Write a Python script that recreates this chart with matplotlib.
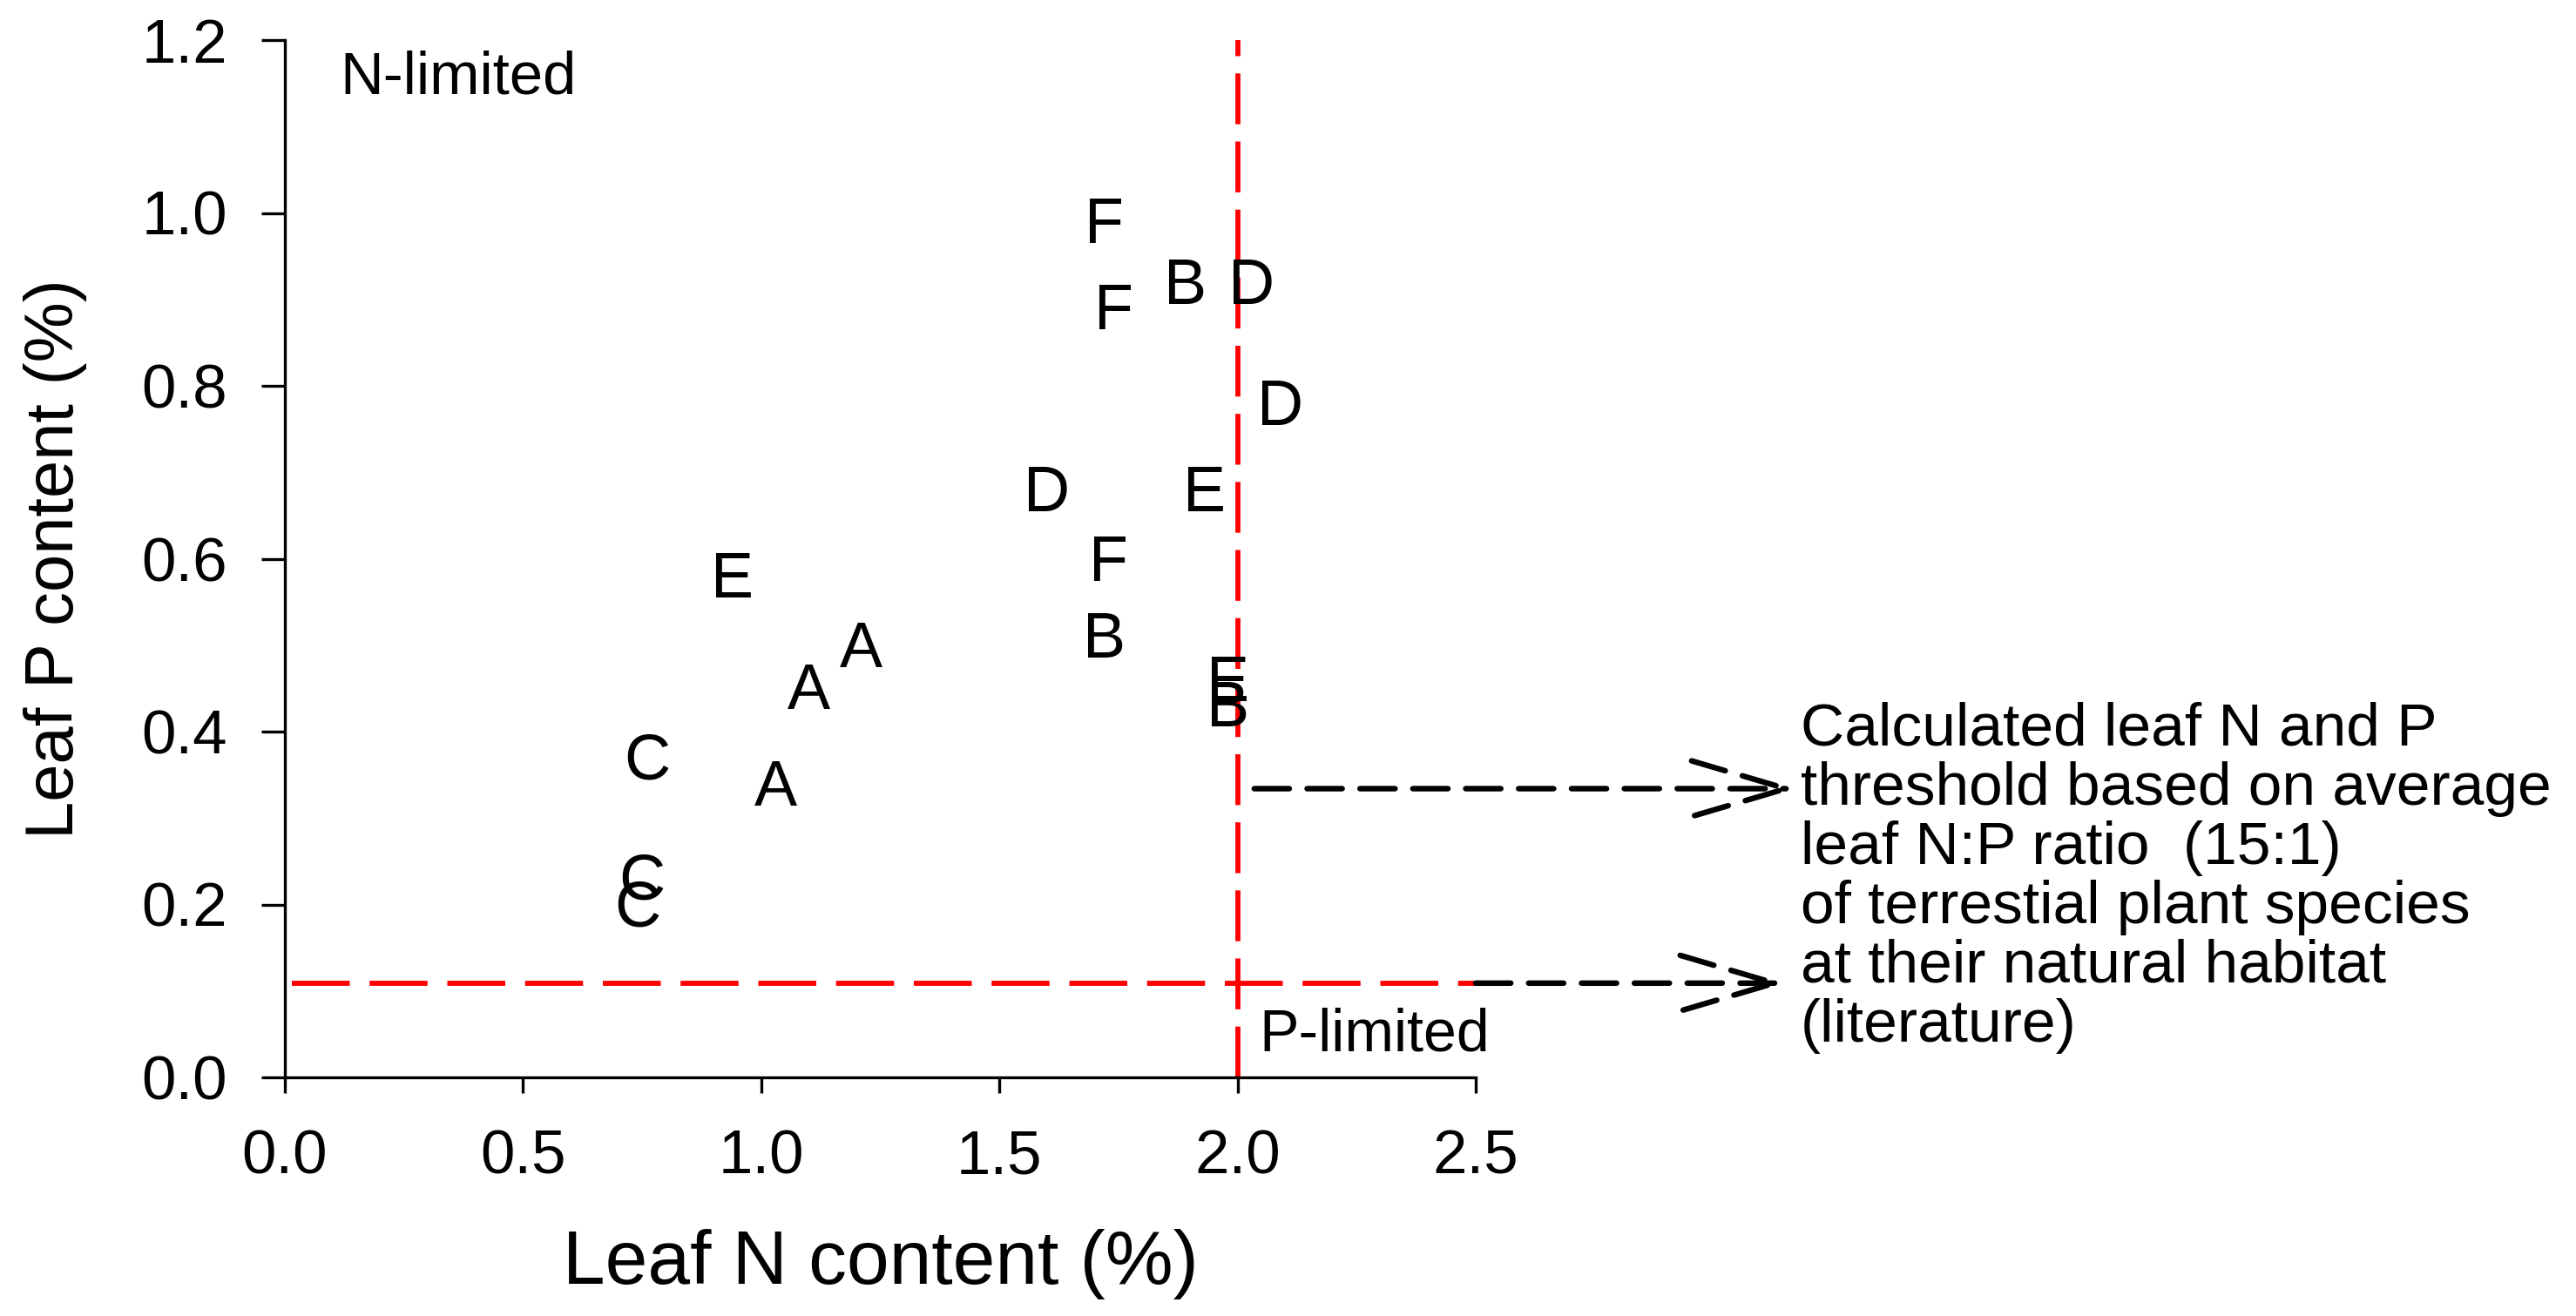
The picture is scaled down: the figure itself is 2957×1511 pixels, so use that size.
import matplotlib
matplotlib.use("Agg")
import matplotlib.pyplot as plt

plt.rcParams['font.family'] = ['Liberation Sans', 'DejaVu Sans']

# ---- data ----
labels = ["A", "A", "A",
          "B", "B", "B",
          "C", "C", "C",
          "D", "D", "D",
          "E", "E", "E",
          "F", "F", "F"]
leaf_n = [1.21, 1.10, 1.03,
          1.89, 1.72, 1.98,
          0.76, 0.75, 0.74,
          2.03, 2.09, 1.60,
          1.93, 0.94, 1.98,
          1.72, 1.74, 1.73]
leaf_p = [0.502, 0.453, 0.342,
          0.922, 0.513, 0.433,
          0.372, 0.233, 0.202,
          0.922, 0.782, 0.682,
          0.682, 0.582, 0.462,
          0.992, 0.893, 0.602]

n_threshold = 2.0
p_threshold = 0.109

x_ticks = [0.0, 0.5, 1.0, 1.5, 2.0, 2.5]
x_ticklabels = ["0.0", "0.5", "1.0", "1.5", "2.0", "2.5"]
y_ticks = [0.0, 0.2, 0.4, 0.6, 0.8, 1.0, 1.2]
y_ticklabels = ["0.0", "0.2", "0.4", "0.6", "0.8", "1.0", "1.2"]

note_text = ("Calculated leaf N and P\n"
             "threshold based on average\n"
             "leaf N:P ratio  (15:1)\n"
             "of terrestial plant species\n"
             "at their natural habitat\n"
             "(literature)")

# ---- figure ----
W, H, DPI = 2957, 1511, 200
fig = plt.figure(figsize=(W / DPI, H / DPI), dpi=DPI)
ax = fig.add_axes([327 / W, 1 - 1237 / H, 1367 / W, 1191 / H])

ax.set_xlim(0, 2.5)
ax.set_ylim(0, 1.2)

for s in ["top", "right"]:
    ax.spines[s].set_visible(False)
for s in ["left", "bottom"]:
    ax.spines[s].set_linewidth(1.2)

ax.set_xticks(x_ticks)
ax.set_xticklabels(x_ticklabels)
ax.set_yticks(y_ticks)
ax.set_yticklabels(y_ticklabels)
ax.tick_params(axis='x', direction='out', length=6.5, width=1.2, pad=15, labelsize=25.5)
ax.tick_params(axis='y', direction='out', length=9.7, width=1.2, pad=14, labelsize=25.5)

ax.set_xlabel("Leaf N content (%)", fontsize=31.5)
ax.set_ylabel("Leaf P content (%)", fontsize=28)
ax.xaxis.set_label_coords(0.5, -0.146)
ax.yaxis.set_label_coords(-0.166, 0.5)

# threshold lines
ax.plot([n_threshold, n_threshold], [0, 1.2], color='#ff0000', lw=2.1,
        ls=(0, (10.0, 3.4)), clip_on=False, zorder=2)
ax.plot([0.015, 2.5], [p_threshold, p_threshold], color='#ff0000', lw=2.1,
        ls=(0, (11.4, 3.9)), clip_on=False, zorder=2)

# letters as markers
for lab, xv, yv in zip(labels, leaf_n, leaf_p):
    ax.text(xv, yv, lab, ha='center', va='center_baseline', fontsize=26.5,
            color='black', zorder=3)

# region labels
ax.text(0.115, 1.1385, "N-limited", fontsize=24.8, ha='left', va='baseline')
ax.text(2.045, 0.031, "P-limited", fontsize=24.5, ha='left', va='baseline')

# dashed arrows to the note
arrow_props = dict(arrowstyle='->,head_length=39,head_width=11.5', lw=2.3,
                   ls=(0, (6.3, 3.2)), color='black', shrinkA=0, shrinkB=0,
                   mutation_scale=1)
ax.annotate('', xy=(3.172, 0.334), xytext=(2.035, 0.334), xycoords='data',
            arrowprops=arrow_props, annotation_clip=False)
ax.annotate('', xy=(3.148, p_threshold), xytext=(2.5, p_threshold), xycoords='data',
            arrowprops=arrow_props, annotation_clip=False)

fig.text(2067 / W, 1 - 806 / H, note_text, fontsize=25, ha='left', va='top',
         linespacing=1.08)

fig.savefig("out.png", dpi=DPI, facecolor='white')
